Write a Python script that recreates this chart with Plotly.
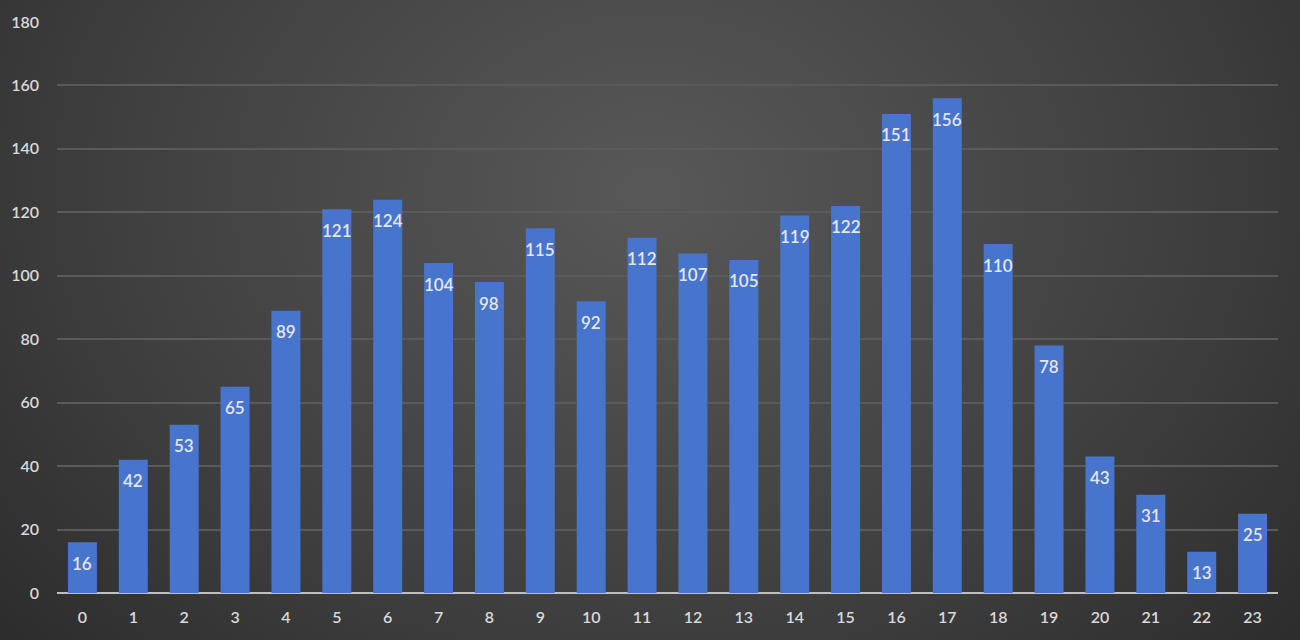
import plotly.graph_objects as go
import base64

hours = [str(i) for i in range(24)]
counts = [16, 42, 53, 65, 89, 121, 124, 104, 98, 115, 92, 112, 107, 105, 119, 122, 151, 156, 110, 78, 43, 31, 13, 25]
y_ticks = list(range(0, 181, 20))

W, H = 1300, 640
L, R, T, B = 57, 22, 22, 47
pw, ph = W - L - R, H - T - B

svg = f'''<svg xmlns="http://www.w3.org/2000/svg" width="{W}" height="{H}" viewBox="0 0 {W} {H}" preserveAspectRatio="none">
<defs><radialGradient id="g" cx="0.5" cy="0.3" r="0.75" gradientTransform="translate(0.5 0.3) scale(1 1.6) translate(-0.5 -0.3)">
<stop offset="0" stop-color="#585858"/><stop offset="0.55" stop-color="#3f3f3f"/><stop offset="1" stop-color="#262626"/></radialGradient></defs>
<rect width="{W}" height="{H}" fill="url(#g)"/></svg>'''
bg_uri = "data:image/svg+xml;base64," + base64.b64encode(svg.encode()).decode()

fig = go.Figure()
fig.add_trace(go.Bar(
    x=hours, y=counts,
    marker=dict(color="#4774CD", line=dict(width=0)),
    width=0.57,
    hoverinfo="x+y",
))

for h, v in zip(hours, counts):
    fig.add_annotation(
        x=h, y=v, text=str(v), showarrow=False,
        yanchor="middle", xanchor="center", yshift=-21,
        font=dict(family="Lato", size=17, color="#E6E6E6", weight=600),
    )

fig.update_layout(
    width=W, height=H,
    margin=dict(l=L, r=R, t=T, b=B),
    paper_bgcolor="#333333",
    plot_bgcolor="rgba(0,0,0,0)",
    showlegend=False,
    images=[dict(source=bg_uri, xref="paper", yref="paper",
                 x=-L / pw, y=1 + T / ph, sizex=W / pw, sizey=H / ph,
                 xanchor="left", yanchor="top", sizing="stretch", layer="below")],
    xaxis=dict(type="category", showgrid=False, showline=False, zeroline=False,
               ticks="", tickfont=dict(family="Lato", size=16, color="#D9D9D9", weight=600),
               ticklabelstandoff=13),
    yaxis=dict(range=[0, 180], tickvals=y_ticks, showgrid=True,
               gridcolor="#5a5a5a", gridwidth=1.5, zeroline=True,
               zerolinecolor="#BFBFBF", zerolinewidth=2, showline=False, ticks="",
               tickfont=dict(family="Lato", size=16, color="#D9D9D9", weight=600),
               ticklabelstandoff=17),
)

fig.write_html("out.html")
